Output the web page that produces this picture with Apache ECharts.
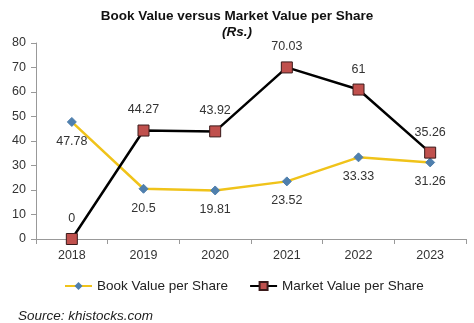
<!DOCTYPE html>
<html><head><meta charset="utf-8">
<script src="https://cdn.jsdelivr.net/npm/echarts@6/dist/echarts.min.js"></script>
<style>html,body{margin:0;padding:0;background:#fff}#c{width:474px;height:323px}</style>
</head><body><div id="c"></div>
<script>
const years = ['2018','2019','2020','2021','2022','2023'];
const bookValue = [47.78, 20.5, 19.81, 23.52, 33.33, 31.26];
const marketValue = [0, 44.27, 43.92, 70.03, 61, 35.26];
const yTicks = [0, 10, 20, 30, 40, 50, 60, 70, 80];

const chart = echarts.init(document.getElementById('c'));
const font = 'Arial, "Liberation Sans", sans-serif';
chart.setOption({
  animation: false,
  title: [
    {text: 'Book Value versus Market Value per Share', left: 'center', top: 4,
     textStyle: {fontFamily: font, fontSize: 13.5, fontWeight: 'bold', color: '#111'}},
    {text: '(Rs.)', left: 'center', top: 20,
     textStyle: {fontFamily: font, fontSize: 13.5, fontWeight: 'bold', fontStyle: 'italic', color: '#111'}},
    {text: 'Source: khistocks.com', left: 13, top: 304,
     textStyle: {fontFamily: font, fontSize: 13.5, fontWeight: 'normal', fontStyle: 'italic', color: '#222'}}
  ],
  grid: {left: 36, right: 8, top: 43, bottom: 84},
  legend: {
    bottom: 25, left: 59, itemGap: 21, itemWidth: 27, itemHeight: 10,
    textStyle: {fontFamily: font, fontSize: 13.5, color: '#222'},
    data: ['Book Value per Share', 'Market Value per Share']
  },
  xAxis: {
    type: 'category', data: years, boundaryGap: true,
    axisLine: {lineStyle: {color: '#999'}},
    axisTick: {show: true, alignWithLabel: false, lineStyle: {color: '#999'}},
    axisLabel: {fontFamily: font, fontSize: 12.5, color: '#333', margin: 10}
  },
  yAxis: {
    type: 'value', min: yTicks[0], max: yTicks[yTicks.length - 1], interval: 10,
    axisLine: {show: true, lineStyle: {color: '#999'}},
    axisTick: {show: true, lineStyle: {color: '#999'}},
    splitLine: {show: false},
    axisLabel: {fontFamily: font, fontSize: 12.5, color: '#333', margin: 10}
  },
  series: [
    {name: 'Book Value per Share', type: 'line', data: bookValue,
     symbol: 'diamond', symbolSize: 9,
     lineStyle: {color: '#f0c31a', width: 2.5},
     itemStyle: {color: '#4f7fad', borderColor: '#4f7fad'},
     label: {show: true, position: 'bottom', distance: 8, fontFamily: font, fontSize: 12.5, color: '#333'}},
    {name: 'Market Value per Share', type: 'line', data: marketValue,
     symbol: 'rect', symbolSize: 11,
     lineStyle: {color: '#000', width: 2.5},
     itemStyle: {color: '#c0504d', borderColor: '#3a1a1a', borderWidth: 1},
     label: {show: true, position: 'top', distance: 8, fontFamily: font, fontSize: 12.5, color: '#333'}}
  ]
});
</script></body></html>
